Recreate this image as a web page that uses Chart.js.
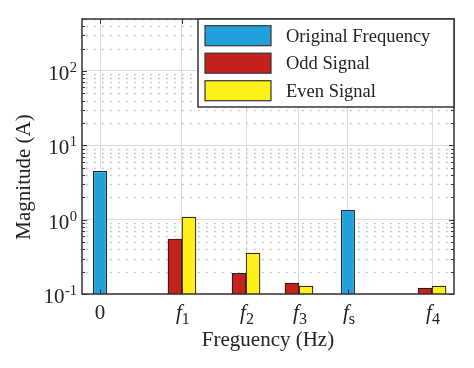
<!DOCTYPE html>
<html>
<head>
<meta charset="utf-8">
<script src="https://cdn.jsdelivr.net/npm/chart.js@4"></script>
<style>
html, body { margin:0; padding:0; background:#fff; }
</style>
</head>
<body>
<canvas id="grafico" width="474" height="368"></canvas>
<script>
// frequency positions on the x axis and their tick labels (symbol + subscript)
var freqLabels = ['0', 'f', 'f', 'f', 'f', 'f'];
var freqSubs = ['', '1', '2', '3', 's', '4'];
var freqPos = [0, 4.55, 8.11, 11.05, 13.77, 18.44];

// magnitudes (A), null = no bar
var original = [4.5, null, null, null, 1.35, null];
var odd = [null, 0.55, 0.19, 0.14, null, 0.12];
var even = [null, 1.08, 0.355, 0.128, null, 0.128];

// y axis decades and their labels (10^exp)
var yTicks = [0.1, 1, 10, 100];
var yTickExp = ['-1', '0', '1', '2'];
var minorSteps = [2, 3, 4, 5, 6, 7, 8, 9];

var serif = "'Liberation Serif', 'DejaVu Serif', serif";
var tinta = '#222';

function pontos(valores) {
    var out = [];
    for (var i = 0; i < freqPos.length; i++) {
        if (valores[i] !== null) out.push({x: freqPos[i], y: valores[i]});
    }
    return out;
}

function todosTicks() {
    var t = [];
    yTicks.forEach(function(d){
        t.push(d);
        minorSteps.forEach(function(m){
            var v = +(d * m).toPrecision(3);
            if (v <= 500) t.push(v);
        });
    });
    return t;
}

var moldura = {
    id: 'moldura',
    beforeDatasetsDraw: function(chart){
        var ctx = chart.ctx, a = chart.chartArea, y = chart.scales.y;
        ctx.save();
        ctx.strokeStyle = '#bdbdbd';
        ctx.lineWidth = 1.6;
        ctx.setLineDash([1.6, 6.4]);
        todosTicks().forEach(function(v){
            if (yTicks.indexOf(v) >= 0) return;
            var p = Math.round(y.getPixelForValue(v)) + 0.5;
            ctx.beginPath();
            ctx.moveTo(a.left + 4, p);
            ctx.lineTo(a.right, p);
            ctx.stroke();
        });
        ctx.restore();
    },
    afterDatasetsDraw: function(chart){
        var ctx = chart.ctx, a = chart.chartArea, y = chart.scales.y, x = chart.scales.x;
        ctx.save();
        ctx.strokeStyle = '#333';
        ctx.lineWidth = 1;
        todosTicks().forEach(function(v){
            var p = Math.round(y.getPixelForValue(v)) + 0.5;
            var len = yTicks.indexOf(v) >= 0 ? 5 : 3;
            ctx.beginPath();
            ctx.moveTo(a.left, p); ctx.lineTo(a.left + len, p);
            ctx.moveTo(a.right, p); ctx.lineTo(a.right - len, p);
            ctx.stroke();
        });
        freqPos.forEach(function(v){
            var p = Math.round(x.getPixelForValue(v)) + 0.5;
            ctx.beginPath();
            ctx.moveTo(p, a.top); ctx.lineTo(p, a.top + 5);
            ctx.moveTo(p, a.bottom); ctx.lineTo(p, a.bottom - 5);
            ctx.stroke();
        });
        ctx.lineWidth = 1.5;
        ctx.strokeRect(a.left, a.top, a.right - a.left, a.bottom - a.top);

        // y tick labels: 10 with raised exponent
        ctx.fillStyle = tinta;
        ctx.textBaseline = 'alphabetic';
        ctx.textAlign = 'right';
        yTicks.forEach(function(v, i){
            var p = y.getPixelForValue(v);
            ctx.font = '14.5px ' + serif;
            var ew = ctx.measureText(yTickExp[i]).width;
            ctx.fillText(yTickExp[i], a.left - 5, p + 1);
            ctx.font = '21px ' + serif;
            ctx.fillText('10', a.left - 5 - ew - 0.5, p + 9);
        });

        // x tick labels: italic f with subscript
        ctx.textAlign = 'left';
        freqPos.forEach(function(v, i){
            var p = x.getPixelForValue(v);
            var base = freqLabels[i], sub = freqSubs[i];
            ctx.font = (sub ? 'italic ' : '') + '21px ' + serif;
            var bw = ctx.measureText(base).width;
            ctx.font = '16px ' + serif;
            var sw = sub ? ctx.measureText(sub).width : 0;
            var x0 = p - (bw + sw) / 2 + (sub ? 1 : 0);
            ctx.font = (sub ? 'italic ' : '') + '21px ' + serif;
            ctx.fillText(base, x0, a.bottom + 25);
            if (sub) {
                ctx.font = '16px ' + serif;
                ctx.fillText(sub, x0 + bw, a.bottom + 30);
            }
        });

        // y axis title
        ctx.font = '21px ' + serif;
        ctx.textAlign = 'center';
        ctx.textBaseline = 'middle';
        ctx.translate(24, 177);
        ctx.rotate(-Math.PI / 2);
        ctx.fillText('Magnitude (A)', 0, 0);
        ctx.restore();

        // legend box
        var w = 256, h = 88, lx = a.right - w, ly = a.top;
        ctx.save();
        ctx.fillStyle = '#fff';
        ctx.fillRect(lx, ly, w, h);
        ctx.strokeStyle = '#333';
        ctx.lineWidth = 1.5;
        ctx.strokeRect(lx, ly, w, h);
        ctx.font = '18.5px ' + serif;
        ctx.textBaseline = 'middle';
        chart.data.datasets.forEach(function(ds, i){
            var cy = ly + 16.7 + i * 27.5;
            ctx.fillStyle = ds.backgroundColor;
            ctx.fillRect(lx + 7, cy - 10, 66, 20);
            ctx.strokeStyle = '#333';
            ctx.lineWidth = 1.2;
            ctx.strokeRect(lx + 7, cy - 10, 66, 20);
            ctx.fillStyle = tinta;
            ctx.fillText(ds.label, lx + 88, cy + 1);
        });
        ctx.restore();
    }
};

window.onload = function(){
    var contexto = document.getElementById("grafico").getContext("2d");
    var grafico = new Chart(contexto, {
        type: 'bar',
        data: {
            datasets: [{
                label: 'Original Frequency',
                data: pontos(original),
                backgroundColor: '#22a0db',
                borderColor: '#1c2a30',
                borderWidth: 1.2,
                grouped: false,
                maxBarThickness: 14
            }, {
                label: 'Odd Signal',
                data: pontos(odd),
                backgroundColor: '#c4221c',
                borderColor: '#2a1a1a',
                borderWidth: 1.2,
                barThickness: 14
            }, {
                label: 'Even Signal',
                data: pontos(even),
                backgroundColor: '#fff01a',
                borderColor: '#2a2a1a',
                borderWidth: 1.2,
                barThickness: 14
            }]
        },
        plugins: [moldura],
        options: {
            responsive: false,
            animation: false,
            devicePixelRatio: 1,
            layout: { padding: { top: 19, right: 20, left: 0, bottom: 0 } },
            plugins: { legend: { display: false }, tooltip: { enabled: false } },
            scales: {
                x: {
                    type: 'linear',
                    min: -1,
                    max: 19.66,
                    offset: false,
                    afterBuildTicks: function(scale){
                        scale.ticks = freqPos.map(function(v){ return {value: v}; });
                    },
                    afterFit: function(scale){ scale.height = 74; },
                    grid: { color: '#dcdcdc', lineWidth: 1, drawTicks: false, offset: false },
                    border: { display: false },
                    ticks: { display: false, autoSkip: false },
                    title: {
                        display: true,
                        text: 'Freguency (Hz)',
                        color: tinta,
                        font: { family: serif, size: 21 },
                        padding: { top: 0, bottom: 15 }
                    }
                },
                y: {
                    type: 'logarithmic',
                    min: 0.1,
                    max: 500,
                    afterBuildTicks: function(scale){
                        scale.ticks = todosTicks().map(function(v){ return {value: v}; });
                    },
                    afterFit: function(scale){ scale.width = 82; },
                    grid: {
                        drawTicks: false,
                        color: function(c){
                            return (c.tick && yTicks.indexOf(c.tick.value) >= 0) ? '#dcdcdc' : 'rgba(0,0,0,0)';
                        }
                    },
                    border: { display: false },
                    ticks: { display: false, autoSkip: false }
                }
            }
        }
    });
};
</script>
</body>
</html>
